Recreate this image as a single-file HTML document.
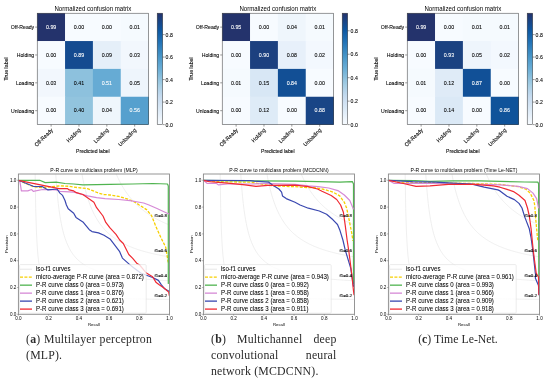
<!DOCTYPE html>
<html><head><meta charset="utf-8"><style>
html,body{margin:0;padding:0;background:#fff;width:550px;height:382px;overflow:hidden;position:relative} svg,.cap{will-change:transform}
svg text{stroke:#000;stroke-width:0.08} svg text.w{stroke:#fff} svg text.b{stroke-width:0.12} svg text.n{stroke:none} svg text.l{stroke-width:0.05}
.cap{position:absolute;font-family:'Liberation Serif',serif;font-size:11.8px;line-height:15.9px;text-align:justify;color:#2a2a2a}
</style></head><body>
<svg width="550" height="382" viewBox="0 0 550 382" style="position:absolute;left:0;top:0;font-family:'Liberation Sans',sans-serif" fill="#000"><defs><linearGradient id="cbg" x1="0" y1="0" x2="0" y2="1"><stop offset="0.000" stop-color="#24336c"/><stop offset="0.050" stop-color="#1c3f7e"/><stop offset="0.100" stop-color="#154b8f"/><stop offset="0.150" stop-color="#0d57a1"/><stop offset="0.200" stop-color="#1764ab"/><stop offset="0.250" stop-color="#2070b4"/><stop offset="0.300" stop-color="#2e7ebc"/><stop offset="0.350" stop-color="#3b8bc2"/><stop offset="0.400" stop-color="#4a98c9"/><stop offset="0.450" stop-color="#5ba3d0"/><stop offset="0.500" stop-color="#6aaed6"/><stop offset="0.550" stop-color="#7fb9da"/><stop offset="0.600" stop-color="#94c4df"/><stop offset="0.650" stop-color="#a6cee4"/><stop offset="0.700" stop-color="#b7d4ea"/><stop offset="0.750" stop-color="#c6dbef"/><stop offset="0.800" stop-color="#d0e1f2"/><stop offset="0.850" stop-color="#d9e8f5"/><stop offset="0.900" stop-color="#e3eef9"/><stop offset="0.950" stop-color="#eef5fc"/><stop offset="1.000" stop-color="#f7fbff"/></linearGradient></defs><g><rect x="37.20" y="13.20" width="28.15" height="28.15" fill="#24336c"/><rect x="65.05" y="13.20" width="28.15" height="28.15" fill="#f7fbff"/><rect x="92.90" y="13.20" width="28.15" height="28.15" fill="#f7fbff"/><rect x="120.75" y="13.20" width="28.15" height="28.15" fill="#f5fafe"/><rect x="37.20" y="41.05" width="28.15" height="28.15" fill="#f7fbff"/><rect x="65.05" y="41.05" width="28.15" height="28.15" fill="#144b90"/><rect x="92.90" y="41.05" width="28.15" height="28.15" fill="#e5eff9"/><rect x="120.75" y="41.05" width="28.15" height="28.15" fill="#f2f7fd"/><rect x="37.20" y="68.90" width="28.15" height="28.15" fill="#f2f7fd"/><rect x="65.05" y="68.90" width="28.15" height="28.15" fill="#8dc1dd"/><rect x="92.90" y="68.90" width="28.15" height="28.15" fill="#66abd4"/><rect x="120.75" y="68.90" width="28.15" height="28.15" fill="#eef5fc"/><rect x="37.20" y="96.75" width="28.15" height="28.15" fill="#f7fbff"/><rect x="65.05" y="96.75" width="28.15" height="28.15" fill="#92c4de"/><rect x="92.90" y="96.75" width="28.15" height="28.15" fill="#eff6fc"/><rect x="120.75" y="96.75" width="28.15" height="28.15" fill="#56a0ce"/><text transform="translate(51.12,28.93) scale(1,1.1)" font-size="5.3" text-anchor="middle" class="w" fill="#ffffff">0.99</text><text transform="translate(78.98,28.93) scale(1,1.1)" font-size="5.3" text-anchor="middle">0.00</text><text transform="translate(106.83,28.93) scale(1,1.1)" font-size="5.3" text-anchor="middle">0.00</text><text transform="translate(134.68,28.93) scale(1,1.1)" font-size="5.3" text-anchor="middle">0.01</text><text transform="translate(51.12,56.78) scale(1,1.1)" font-size="5.3" text-anchor="middle">0.00</text><text transform="translate(78.98,56.78) scale(1,1.1)" font-size="5.3" text-anchor="middle" class="w" fill="#ffffff">0.89</text><text transform="translate(106.83,56.78) scale(1,1.1)" font-size="5.3" text-anchor="middle">0.09</text><text transform="translate(134.68,56.78) scale(1,1.1)" font-size="5.3" text-anchor="middle">0.03</text><text transform="translate(51.12,84.62) scale(1,1.1)" font-size="5.3" text-anchor="middle">0.03</text><text transform="translate(78.98,84.62) scale(1,1.1)" font-size="5.3" text-anchor="middle">0.41</text><text transform="translate(106.83,84.62) scale(1,1.1)" font-size="5.3" text-anchor="middle" class="w" fill="#ffffff">0.51</text><text transform="translate(134.68,84.62) scale(1,1.1)" font-size="5.3" text-anchor="middle">0.05</text><text transform="translate(51.12,112.48) scale(1,1.1)" font-size="5.3" text-anchor="middle">0.00</text><text transform="translate(78.98,112.48) scale(1,1.1)" font-size="5.3" text-anchor="middle">0.40</text><text transform="translate(106.83,112.48) scale(1,1.1)" font-size="5.3" text-anchor="middle">0.04</text><text transform="translate(134.68,112.48) scale(1,1.1)" font-size="5.3" text-anchor="middle" class="w" fill="#ffffff">0.56</text><rect x="37.20" y="13.20" width="111.40" height="111.40" fill="none" stroke="#333" stroke-width="0.5"/><text transform="translate(92.90,11.00) scale(1,1.1)" font-size="6.1" text-anchor="middle" class="n">Normalized confusion matrix</text><line x1="35.20" y1="27.12" x2="37.20" y2="27.12" stroke="#333" stroke-width="0.5"/><text transform="translate(34.20,29.02) scale(1,1.1)" font-size="5.15" text-anchor="end">Off-Ready</text><line x1="35.20" y1="54.98" x2="37.20" y2="54.98" stroke="#333" stroke-width="0.5"/><text transform="translate(34.20,56.88) scale(1,1.1)" font-size="5.15" text-anchor="end">Holding</text><line x1="35.20" y1="82.83" x2="37.20" y2="82.83" stroke="#333" stroke-width="0.5"/><text transform="translate(34.20,84.73) scale(1,1.1)" font-size="5.15" text-anchor="end">Loading</text><line x1="35.20" y1="110.68" x2="37.20" y2="110.68" stroke="#333" stroke-width="0.5"/><text transform="translate(34.20,112.58) scale(1,1.1)" font-size="5.15" text-anchor="end">Unloading</text><line x1="51.12" y1="124.60" x2="51.12" y2="126.60" stroke="#333" stroke-width="0.5"/><text transform="translate(53.23,130.60) rotate(-45) scale(1,1.1)" font-size="5.1" text-anchor="end">Off-Ready</text><line x1="78.98" y1="124.60" x2="78.98" y2="126.60" stroke="#333" stroke-width="0.5"/><text transform="translate(81.08,130.60) rotate(-45) scale(1,1.1)" font-size="5.1" text-anchor="end">Holding</text><line x1="106.83" y1="124.60" x2="106.83" y2="126.60" stroke="#333" stroke-width="0.5"/><text transform="translate(108.92,130.60) rotate(-45) scale(1,1.1)" font-size="5.1" text-anchor="end">Loading</text><line x1="134.68" y1="124.60" x2="134.68" y2="126.60" stroke="#333" stroke-width="0.5"/><text transform="translate(136.78,130.60) rotate(-45) scale(1,1.1)" font-size="5.1" text-anchor="end">Unloading</text><text transform="translate(92.90,152.80) scale(1,1.1)" font-size="5.1" text-anchor="middle">Predicted label</text><text transform="translate(8.20,68.90) rotate(-90) scale(1,1.1)" font-size="5.28" text-anchor="middle">True label</text><rect x="157.20" y="13.20" width="5.50" height="111.40" fill="url(#cbg)" stroke="#333" stroke-width="0.5"/><line x1="162.70" y1="124.60" x2="164.70" y2="124.60" stroke="#333" stroke-width="0.5"/><text transform="translate(165.60,126.60) scale(1,1.1)" font-size="5.2">0.0</text><line x1="162.70" y1="102.09" x2="164.70" y2="102.09" stroke="#333" stroke-width="0.5"/><text transform="translate(165.60,104.09) scale(1,1.1)" font-size="5.2">0.2</text><line x1="162.70" y1="79.59" x2="164.70" y2="79.59" stroke="#333" stroke-width="0.5"/><text transform="translate(165.60,81.59) scale(1,1.1)" font-size="5.2">0.4</text><line x1="162.70" y1="57.08" x2="164.70" y2="57.08" stroke="#333" stroke-width="0.5"/><text transform="translate(165.60,59.08) scale(1,1.1)" font-size="5.2">0.6</text><line x1="162.70" y1="34.58" x2="164.70" y2="34.58" stroke="#333" stroke-width="0.5"/><text transform="translate(165.60,36.58) scale(1,1.1)" font-size="5.2">0.8</text></g><g><rect x="222.20" y="13.20" width="28.15" height="28.15" fill="#24336c"/><rect x="250.05" y="13.20" width="28.15" height="28.15" fill="#f7fbff"/><rect x="277.90" y="13.20" width="28.15" height="28.15" fill="#eff6fc"/><rect x="305.75" y="13.20" width="28.15" height="28.15" fill="#f5fafe"/><rect x="222.20" y="41.05" width="28.15" height="28.15" fill="#f7fbff"/><rect x="250.05" y="41.05" width="28.15" height="28.15" fill="#1c407f"/><rect x="277.90" y="41.05" width="28.15" height="28.15" fill="#e7f0fa"/><rect x="305.75" y="41.05" width="28.15" height="28.15" fill="#f3f8fe"/><rect x="222.20" y="68.90" width="28.15" height="28.15" fill="#f5fafe"/><rect x="250.05" y="68.90" width="28.15" height="28.15" fill="#d8e7f5"/><rect x="277.90" y="68.90" width="28.15" height="28.15" fill="#124f95"/><rect x="305.75" y="68.90" width="28.15" height="28.15" fill="#f7fbff"/><rect x="222.20" y="96.75" width="28.15" height="28.15" fill="#f7fbff"/><rect x="250.05" y="96.75" width="28.15" height="28.15" fill="#deebf7"/><rect x="277.90" y="96.75" width="28.15" height="28.15" fill="#f7fbff"/><rect x="305.75" y="96.75" width="28.15" height="28.15" fill="#194586"/><text transform="translate(236.12,28.93) scale(1,1.1)" font-size="5.3" text-anchor="middle" class="w" fill="#ffffff">0.95</text><text transform="translate(263.98,28.93) scale(1,1.1)" font-size="5.3" text-anchor="middle">0.00</text><text transform="translate(291.82,28.93) scale(1,1.1)" font-size="5.3" text-anchor="middle">0.04</text><text transform="translate(319.68,28.93) scale(1,1.1)" font-size="5.3" text-anchor="middle">0.01</text><text transform="translate(236.12,56.78) scale(1,1.1)" font-size="5.3" text-anchor="middle">0.00</text><text transform="translate(263.98,56.78) scale(1,1.1)" font-size="5.3" text-anchor="middle" class="w" fill="#ffffff">0.90</text><text transform="translate(291.82,56.78) scale(1,1.1)" font-size="5.3" text-anchor="middle">0.08</text><text transform="translate(319.68,56.78) scale(1,1.1)" font-size="5.3" text-anchor="middle">0.02</text><text transform="translate(236.12,84.62) scale(1,1.1)" font-size="5.3" text-anchor="middle">0.01</text><text transform="translate(263.98,84.62) scale(1,1.1)" font-size="5.3" text-anchor="middle">0.15</text><text transform="translate(291.82,84.62) scale(1,1.1)" font-size="5.3" text-anchor="middle" class="w" fill="#ffffff">0.84</text><text transform="translate(319.68,84.62) scale(1,1.1)" font-size="5.3" text-anchor="middle">0.00</text><text transform="translate(236.12,112.48) scale(1,1.1)" font-size="5.3" text-anchor="middle">0.00</text><text transform="translate(263.98,112.48) scale(1,1.1)" font-size="5.3" text-anchor="middle">0.12</text><text transform="translate(291.82,112.48) scale(1,1.1)" font-size="5.3" text-anchor="middle">0.00</text><text transform="translate(319.68,112.48) scale(1,1.1)" font-size="5.3" text-anchor="middle" class="w" fill="#ffffff">0.88</text><rect x="222.20" y="13.20" width="111.40" height="111.40" fill="none" stroke="#333" stroke-width="0.5"/><text transform="translate(277.90,11.00) scale(1,1.1)" font-size="6.1" text-anchor="middle" class="n">Normalized confusion matrix</text><line x1="220.20" y1="27.12" x2="222.20" y2="27.12" stroke="#333" stroke-width="0.5"/><text transform="translate(219.20,29.02) scale(1,1.1)" font-size="5.15" text-anchor="end">Off-Ready</text><line x1="220.20" y1="54.98" x2="222.20" y2="54.98" stroke="#333" stroke-width="0.5"/><text transform="translate(219.20,56.88) scale(1,1.1)" font-size="5.15" text-anchor="end">Holding</text><line x1="220.20" y1="82.83" x2="222.20" y2="82.83" stroke="#333" stroke-width="0.5"/><text transform="translate(219.20,84.73) scale(1,1.1)" font-size="5.15" text-anchor="end">Loading</text><line x1="220.20" y1="110.68" x2="222.20" y2="110.68" stroke="#333" stroke-width="0.5"/><text transform="translate(219.20,112.58) scale(1,1.1)" font-size="5.15" text-anchor="end">Unloading</text><line x1="236.12" y1="124.60" x2="236.12" y2="126.60" stroke="#333" stroke-width="0.5"/><text transform="translate(238.22,130.60) rotate(-45) scale(1,1.1)" font-size="5.1" text-anchor="end">Off-Ready</text><line x1="263.98" y1="124.60" x2="263.98" y2="126.60" stroke="#333" stroke-width="0.5"/><text transform="translate(266.08,130.60) rotate(-45) scale(1,1.1)" font-size="5.1" text-anchor="end">Holding</text><line x1="291.82" y1="124.60" x2="291.82" y2="126.60" stroke="#333" stroke-width="0.5"/><text transform="translate(293.93,130.60) rotate(-45) scale(1,1.1)" font-size="5.1" text-anchor="end">Loading</text><line x1="319.68" y1="124.60" x2="319.68" y2="126.60" stroke="#333" stroke-width="0.5"/><text transform="translate(321.78,130.60) rotate(-45) scale(1,1.1)" font-size="5.1" text-anchor="end">Unloading</text><text transform="translate(277.90,152.80) scale(1,1.1)" font-size="5.1" text-anchor="middle">Predicted label</text><text transform="translate(193.20,68.90) rotate(-90) scale(1,1.1)" font-size="5.28" text-anchor="middle">True label</text><rect x="342.20" y="13.20" width="5.50" height="111.40" fill="url(#cbg)" stroke="#333" stroke-width="0.5"/><line x1="347.70" y1="124.60" x2="349.70" y2="124.60" stroke="#333" stroke-width="0.5"/><text transform="translate(350.60,126.60) scale(1,1.1)" font-size="5.2">0.0</text><line x1="347.70" y1="101.15" x2="349.70" y2="101.15" stroke="#333" stroke-width="0.5"/><text transform="translate(350.60,103.15) scale(1,1.1)" font-size="5.2">0.2</text><line x1="347.70" y1="77.69" x2="349.70" y2="77.69" stroke="#333" stroke-width="0.5"/><text transform="translate(350.60,79.69) scale(1,1.1)" font-size="5.2">0.4</text><line x1="347.70" y1="54.24" x2="349.70" y2="54.24" stroke="#333" stroke-width="0.5"/><text transform="translate(350.60,56.24) scale(1,1.1)" font-size="5.2">0.6</text><line x1="347.70" y1="30.79" x2="349.70" y2="30.79" stroke="#333" stroke-width="0.5"/><text transform="translate(350.60,32.79) scale(1,1.1)" font-size="5.2">0.8</text></g><g><rect x="407.20" y="13.20" width="28.15" height="28.15" fill="#24336c"/><rect x="435.05" y="13.20" width="28.15" height="28.15" fill="#f7fbff"/><rect x="462.90" y="13.20" width="28.15" height="28.15" fill="#f5fafe"/><rect x="490.75" y="13.20" width="28.15" height="28.15" fill="#f5fafe"/><rect x="407.20" y="41.05" width="28.15" height="28.15" fill="#f7fbff"/><rect x="435.05" y="41.05" width="28.15" height="28.15" fill="#1b4281"/><rect x="462.90" y="41.05" width="28.15" height="28.15" fill="#eef5fc"/><rect x="490.75" y="41.05" width="28.15" height="28.15" fill="#f3f8fe"/><rect x="407.20" y="68.90" width="28.15" height="28.15" fill="#f5fafe"/><rect x="435.05" y="68.90" width="28.15" height="28.15" fill="#dfebf7"/><rect x="462.90" y="68.90" width="28.15" height="28.15" fill="#115097"/><rect x="490.75" y="68.90" width="28.15" height="28.15" fill="#f7fbff"/><rect x="407.20" y="96.75" width="28.15" height="28.15" fill="#f7fbff"/><rect x="435.05" y="96.75" width="28.15" height="28.15" fill="#dbe9f6"/><rect x="462.90" y="96.75" width="28.15" height="28.15" fill="#f7fbff"/><rect x="490.75" y="96.75" width="28.15" height="28.15" fill="#10539a"/><text transform="translate(421.12,28.93) scale(1,1.1)" font-size="5.3" text-anchor="middle" class="w" fill="#ffffff">0.99</text><text transform="translate(448.98,28.93) scale(1,1.1)" font-size="5.3" text-anchor="middle">0.00</text><text transform="translate(476.82,28.93) scale(1,1.1)" font-size="5.3" text-anchor="middle">0.01</text><text transform="translate(504.68,28.93) scale(1,1.1)" font-size="5.3" text-anchor="middle">0.01</text><text transform="translate(421.12,56.78) scale(1,1.1)" font-size="5.3" text-anchor="middle">0.00</text><text transform="translate(448.98,56.78) scale(1,1.1)" font-size="5.3" text-anchor="middle" class="w" fill="#ffffff">0.93</text><text transform="translate(476.82,56.78) scale(1,1.1)" font-size="5.3" text-anchor="middle">0.05</text><text transform="translate(504.68,56.78) scale(1,1.1)" font-size="5.3" text-anchor="middle">0.02</text><text transform="translate(421.12,84.62) scale(1,1.1)" font-size="5.3" text-anchor="middle">0.01</text><text transform="translate(448.98,84.62) scale(1,1.1)" font-size="5.3" text-anchor="middle">0.12</text><text transform="translate(476.82,84.62) scale(1,1.1)" font-size="5.3" text-anchor="middle" class="w" fill="#ffffff">0.87</text><text transform="translate(504.68,84.62) scale(1,1.1)" font-size="5.3" text-anchor="middle">0.00</text><text transform="translate(421.12,112.48) scale(1,1.1)" font-size="5.3" text-anchor="middle">0.00</text><text transform="translate(448.98,112.48) scale(1,1.1)" font-size="5.3" text-anchor="middle">0.14</text><text transform="translate(476.82,112.48) scale(1,1.1)" font-size="5.3" text-anchor="middle">0.00</text><text transform="translate(504.68,112.48) scale(1,1.1)" font-size="5.3" text-anchor="middle" class="w" fill="#ffffff">0.86</text><rect x="407.20" y="13.20" width="111.40" height="111.40" fill="none" stroke="#333" stroke-width="0.5"/><text transform="translate(462.90,11.00) scale(1,1.1)" font-size="6.1" text-anchor="middle" class="n">Normalized confusion matrix</text><line x1="405.20" y1="27.12" x2="407.20" y2="27.12" stroke="#333" stroke-width="0.5"/><text transform="translate(404.20,29.02) scale(1,1.1)" font-size="5.15" text-anchor="end">Off-Ready</text><line x1="405.20" y1="54.98" x2="407.20" y2="54.98" stroke="#333" stroke-width="0.5"/><text transform="translate(404.20,56.88) scale(1,1.1)" font-size="5.15" text-anchor="end">Holding</text><line x1="405.20" y1="82.83" x2="407.20" y2="82.83" stroke="#333" stroke-width="0.5"/><text transform="translate(404.20,84.73) scale(1,1.1)" font-size="5.15" text-anchor="end">Loading</text><line x1="405.20" y1="110.68" x2="407.20" y2="110.68" stroke="#333" stroke-width="0.5"/><text transform="translate(404.20,112.58) scale(1,1.1)" font-size="5.15" text-anchor="end">Unloading</text><line x1="421.12" y1="124.60" x2="421.12" y2="126.60" stroke="#333" stroke-width="0.5"/><text transform="translate(423.23,130.60) rotate(-45) scale(1,1.1)" font-size="5.1" text-anchor="end">Off-Ready</text><line x1="448.98" y1="124.60" x2="448.98" y2="126.60" stroke="#333" stroke-width="0.5"/><text transform="translate(451.08,130.60) rotate(-45) scale(1,1.1)" font-size="5.1" text-anchor="end">Holding</text><line x1="476.82" y1="124.60" x2="476.82" y2="126.60" stroke="#333" stroke-width="0.5"/><text transform="translate(478.93,130.60) rotate(-45) scale(1,1.1)" font-size="5.1" text-anchor="end">Loading</text><line x1="504.68" y1="124.60" x2="504.68" y2="126.60" stroke="#333" stroke-width="0.5"/><text transform="translate(506.78,130.60) rotate(-45) scale(1,1.1)" font-size="5.1" text-anchor="end">Unloading</text><text transform="translate(462.90,152.80) scale(1,1.1)" font-size="5.1" text-anchor="middle">Predicted label</text><text transform="translate(378.20,68.90) rotate(-90) scale(1,1.1)" font-size="5.28" text-anchor="middle">True label</text><rect x="527.20" y="13.20" width="5.50" height="111.40" fill="url(#cbg)" stroke="#333" stroke-width="0.5"/><line x1="532.70" y1="124.60" x2="534.70" y2="124.60" stroke="#333" stroke-width="0.5"/><text transform="translate(535.60,126.60) scale(1,1.1)" font-size="5.2">0.0</text><line x1="532.70" y1="102.09" x2="534.70" y2="102.09" stroke="#333" stroke-width="0.5"/><text transform="translate(535.60,104.09) scale(1,1.1)" font-size="5.2">0.2</text><line x1="532.70" y1="79.59" x2="534.70" y2="79.59" stroke="#333" stroke-width="0.5"/><text transform="translate(535.60,81.59) scale(1,1.1)" font-size="5.2">0.4</text><line x1="532.70" y1="57.08" x2="534.70" y2="57.08" stroke="#333" stroke-width="0.5"/><text transform="translate(535.60,59.08) scale(1,1.1)" font-size="5.2">0.6</text><line x1="532.70" y1="34.58" x2="534.70" y2="34.58" stroke="#333" stroke-width="0.5"/><text transform="translate(535.60,36.58) scale(1,1.1)" font-size="5.2">0.8</text></g><g><clipPath id="clip0"><rect x="18.40" y="174.00" width="151.10" height="140.30"/></clipPath><g clip-path="url(#clip0)"><polyline points="34.95,159.81 35.70,208.31 36.45,232.00 37.20,246.03 37.95,255.32 38.70,261.91 39.46,266.84 40.21,270.67 40.96,273.72 41.71,276.21 42.46,278.28 43.21,280.03 43.97,281.53 44.72,282.83 45.47,283.97 46.22,284.97 46.97,285.86 47.72,286.66 48.48,287.37 49.23,288.02 49.98,288.61 50.73,289.14 51.48,289.63 52.23,290.09 52.99,290.50 53.74,290.89 54.49,291.25 55.24,291.58 55.99,291.89 56.74,292.19 57.50,292.46 58.25,292.72 59.00,292.96 59.75,293.18 60.50,293.40 61.25,293.60 62.01,293.79 62.76,293.98 63.51,294.15 64.26,294.32 65.01,294.47 65.76,294.62 66.52,294.77 67.27,294.90 68.02,295.03 68.77,295.16 69.52,295.28 70.28,295.39 71.03,295.50 71.78,295.61 72.53,295.71 73.28,295.81 74.03,295.90 74.79,295.99 75.54,296.08 76.29,296.17 77.04,296.25 77.79,296.33 78.54,296.40 79.30,296.48 80.05,296.55 80.80,296.62 81.55,296.69 82.30,296.75 83.05,296.81 83.81,296.87 84.56,296.93 85.31,296.99 86.06,297.05 86.81,297.10 87.56,297.15 88.32,297.21 89.07,297.26 89.82,297.30 90.57,297.35 91.32,297.40 92.07,297.44 92.83,297.49 93.58,297.53 94.33,297.57 95.08,297.61 95.83,297.65 96.58,297.69 97.34,297.73 98.09,297.76 98.84,297.80 99.59,297.84 100.34,297.87 101.09,297.90 101.85,297.94 102.60,297.97 103.35,298.00 104.10,298.03 104.85,298.06 105.61,298.09 106.36,298.12 107.11,298.15 107.86,298.18 108.61,298.20 109.36,298.23 110.12,298.26 110.87,298.28 111.62,298.31 112.37,298.33 113.12,298.36 113.87,298.38 114.63,298.40 115.38,298.43 116.13,298.45 116.88,298.47 117.63,298.49 118.38,298.51 119.14,298.54 119.89,298.56 120.64,298.58 121.39,298.60 122.14,298.62 122.89,298.63 123.65,298.65 124.40,298.67 125.15,298.69 125.90,298.71 126.65,298.73 127.40,298.74 128.16,298.76 128.91,298.78 129.66,298.79 130.41,298.81 131.16,298.83 131.91,298.84 132.67,298.86 133.42,298.87 134.17,298.89 134.92,298.90 135.67,298.92 136.43,298.93 137.18,298.95 137.93,298.96 138.68,298.97 139.43,298.99 140.18,299.00 140.94,299.02 141.69,299.03 142.44,299.04 143.19,299.05 143.94,299.07 144.69,299.08 145.45,299.09 146.20,299.10 146.95,299.12 147.70,299.13 148.45,299.14 149.20,299.15 149.96,299.16 150.71,299.17 151.46,299.18 152.21,299.19 152.96,299.20 153.71,299.22 154.47,299.23 155.22,299.24 155.97,299.25 156.72,299.26 157.47,299.27 158.22,299.28 158.98,299.29 159.73,299.30 160.48,299.31 161.23,299.31 161.98,299.32 162.73,299.33 163.49,299.34 164.24,299.35 164.99,299.36 165.74,299.37 166.49,299.38 167.24,299.39 168.00,299.39 168.75,299.40 169.50,299.41" fill="none" stroke="#e4e4e4" stroke-width="0.6"/><polyline points="54.49,149.51 55.24,165.18 55.99,177.65 56.74,187.81 57.50,196.26 58.25,203.38 59.00,209.47 59.75,214.74 60.50,219.34 61.25,223.40 62.01,227.00 62.76,230.22 63.51,233.11 64.26,235.72 65.01,238.10 65.76,240.26 66.52,242.25 67.27,244.07 68.02,245.75 68.77,247.31 69.52,248.76 70.28,250.10 71.03,251.35 71.78,252.53 72.53,253.63 73.28,254.66 74.03,255.63 74.79,256.55 75.54,257.41 76.29,258.23 77.04,259.00 77.79,259.74 78.54,260.43 79.30,261.10 80.05,261.73 80.80,262.33 81.55,262.91 82.30,263.45 83.05,263.98 83.81,264.48 84.56,264.96 85.31,265.43 86.06,265.87 86.81,266.29 87.56,266.70 88.32,267.10 89.07,267.48 89.82,267.84 90.57,268.19 91.32,268.53 92.07,268.86 92.83,269.18 93.58,269.49 94.33,269.78 95.08,270.07 95.83,270.35 96.58,270.61 97.34,270.88 98.09,271.13 98.84,271.37 99.59,271.61 100.34,271.84 101.09,272.07 101.85,272.28 102.60,272.50 103.35,272.70 104.10,272.90 104.85,273.10 105.61,273.29 106.36,273.47 107.11,273.65 107.86,273.83 108.61,274.00 109.36,274.17 110.12,274.33 110.87,274.49 111.62,274.64 112.37,274.80 113.12,274.94 113.87,275.09 114.63,275.23 115.38,275.37 116.13,275.50 116.88,275.64 117.63,275.76 118.38,275.89 119.14,276.01 119.89,276.14 120.64,276.25 121.39,276.37 122.14,276.48 122.89,276.60 123.65,276.71 124.40,276.81 125.15,276.92 125.90,277.02 126.65,277.12 127.40,277.22 128.16,277.32 128.91,277.41 129.66,277.51 130.41,277.60 131.16,277.69 131.91,277.78 132.67,277.86 133.42,277.95 134.17,278.03 134.92,278.12 135.67,278.20 136.43,278.28 137.18,278.35 137.93,278.43 138.68,278.51 139.43,278.58 140.18,278.65 140.94,278.73 141.69,278.80 142.44,278.87 143.19,278.94 143.94,279.00 144.69,279.07 145.45,279.14 146.20,279.20 146.95,279.26 147.70,279.33 148.45,279.39 149.20,279.45 149.96,279.51 150.71,279.57 151.46,279.62 152.21,279.68 152.96,279.74 153.71,279.79 154.47,279.85 155.22,279.90 155.97,279.96 156.72,280.01 157.47,280.06 158.22,280.11 158.98,280.16 159.73,280.21 160.48,280.26 161.23,280.31 161.98,280.36 162.73,280.40 163.49,280.45 164.24,280.50 164.99,280.54 165.74,280.58 166.49,280.63 167.24,280.67 168.00,280.72 168.75,280.76 169.50,280.80" fill="none" stroke="#e4e4e4" stroke-width="0.6"/><polyline points="77.79,144.51 78.54,151.09 79.30,157.03 80.05,162.42 80.80,167.34 81.55,171.84 82.30,175.98 83.05,179.80 83.81,183.33 84.56,186.61 85.31,189.65 86.06,192.50 86.81,195.15 87.56,197.64 88.32,199.98 89.07,202.18 89.82,204.25 90.57,206.21 91.32,208.06 92.07,209.81 92.83,211.47 93.58,213.05 94.33,214.55 95.08,215.98 95.83,217.34 96.58,218.64 97.34,219.88 98.09,221.06 98.84,222.20 99.59,223.29 100.34,224.33 101.09,225.33 101.85,226.29 102.60,227.22 103.35,228.11 104.10,228.96 104.85,229.79 105.61,230.58 106.36,231.35 107.11,232.09 107.86,232.81 108.61,233.50 109.36,234.17 110.12,234.81 110.87,235.44 111.62,236.05 112.37,236.64 113.12,237.21 113.87,237.76 114.63,238.30 115.38,238.82 116.13,239.32 116.88,239.82 117.63,240.29 118.38,240.76 119.14,241.21 119.89,241.65 120.64,242.08 121.39,242.50 122.14,242.90 122.89,243.30 123.65,243.69 124.40,244.06 125.15,244.43 125.90,244.79 126.65,245.14 127.40,245.48 128.16,245.82 128.91,246.14 129.66,246.46 130.41,246.77 131.16,247.08 131.91,247.37 132.67,247.67 133.42,247.95 134.17,248.23 134.92,248.50 135.67,248.77 136.43,249.03 137.18,249.29 137.93,249.54 138.68,249.79 139.43,250.03 140.18,250.27 140.94,250.50 141.69,250.72 142.44,250.95 143.19,251.17 143.94,251.38 144.69,251.59 145.45,251.80 146.20,252.00 146.95,252.20 147.70,252.40 148.45,252.59 149.20,252.78 149.96,252.97 150.71,253.15 151.46,253.33 152.21,253.50 152.96,253.68 153.71,253.85 154.47,254.02 155.22,254.18 155.97,254.34 156.72,254.50 157.47,254.66 158.22,254.82 158.98,254.97 159.73,255.12 160.48,255.27 161.23,255.41 161.98,255.55 162.73,255.69 163.49,255.83 164.24,255.97 164.99,256.10 165.74,256.24 166.49,256.37 167.24,256.50 168.00,256.62 168.75,256.75 169.50,256.87" fill="none" stroke="#e4e4e4" stroke-width="0.6"/><polyline points="106.36,142.97 107.11,146.10 107.86,149.07 108.61,151.89 109.36,154.57 110.12,157.12 110.87,159.55 111.62,161.87 112.37,164.08 113.12,166.20 113.87,168.23 114.63,170.17 115.38,172.03 116.13,173.82 116.88,175.54 117.63,177.19 118.38,178.78 119.14,180.31 119.89,181.78 120.64,183.20 121.39,184.57 122.14,185.89 122.89,187.16 123.65,188.40 124.40,189.59 125.15,190.74 125.90,191.86 126.65,192.94 127.40,193.99 128.16,195.01 128.91,196.00 129.66,196.95 130.41,197.88 131.16,198.79 131.91,199.66 132.67,200.51 133.42,201.34 134.17,202.15 134.92,202.93 135.67,203.70 136.43,204.44 137.18,205.17 137.93,205.87 138.68,206.56 139.43,207.23 140.18,207.89 140.94,208.53 141.69,209.15 142.44,209.76 143.19,210.36 143.94,210.94 144.69,211.51 145.45,212.06 146.20,212.60 146.95,213.14 147.70,213.65 148.45,214.16 149.20,214.66 149.96,215.15 150.71,215.62 151.46,216.09 152.21,216.55 152.96,216.99 153.71,217.43 154.47,217.86 155.22,218.28 155.97,218.70 156.72,219.10 157.47,219.50 158.22,219.89 158.98,220.27 159.73,220.65 160.48,221.02 161.23,221.38 161.98,221.74 162.73,222.09 163.49,222.43 164.24,222.76 164.99,223.10 165.74,223.42 166.49,223.74 167.24,224.06 168.00,224.36 168.75,224.67 169.50,224.97" fill="none" stroke="#e4e4e4" stroke-width="0.6"/><polyline points="18.30,180.30 33.30,186.70 42.50,187.60 56.20,186.30 60.00,185.80 69.20,186.30 78.30,187.70 87.50,188.60 92.00,190.40 98.50,193.10 104.00,194.50 110.00,195.00 118.70,196.40 127.90,199.10 135.20,202.30 139.20,205.00 146.50,209.60 151.50,215.50 155.30,225.10 161.10,238.00 165.70,247.20 167.50,258.10 168.50,264.00" fill="none" stroke="#f7cf00" stroke-width="1.3" stroke-linejoin="round" stroke-dasharray="3,1.4"/><polyline points="18.30,180.30 39.70,180.30 45.20,182.60 56.20,182.20 65.00,183.50 73.70,184.00 82.90,184.90 110.00,184.40 132.50,184.00 152.90,183.50 167.50,184.00 168.30,186.00 168.30,283.50" fill="none" stroke="#50b450" stroke-width="1.2" stroke-linejoin="round" stroke-linecap="round"/><polyline points="18.30,180.30 20.00,182.20 21.40,190.90 27.80,190.90 31.50,189.50 33.30,191.30 42.50,189.50 56.20,189.90 60.00,191.30 73.70,192.20 87.50,195.90 96.60,197.70 105.00,198.60 118.70,199.50 130.00,200.60 143.70,203.00 149.00,205.00 157.00,208.50 168.80,214.00" fill="none" stroke="#d68ad6" stroke-width="1.2" stroke-linejoin="round" stroke-linecap="round"/><polyline points="18.30,180.30 33.30,186.30 42.50,186.70 48.00,189.90 57.10,189.00 59.90,193.10 62.60,195.40 65.00,200.50 66.40,205.00 68.20,208.70 73.70,213.20 76.00,217.40 82.90,221.90 89.30,229.70 92.00,231.60 98.50,232.90 104.00,235.20 110.00,238.90 114.20,244.40 119.70,251.70 122.40,258.10 129.70,264.60 134.30,268.20 140.70,273.00 146.40,275.30 152.60,277.50 158.40,280.40 161.40,284.80 164.30,288.40 169.40,291.40" fill="none" stroke="#3a48b0" stroke-width="1.2" stroke-linejoin="round" stroke-linecap="round"/><polyline points="18.30,180.30 59.00,188.60 67.30,188.60 69.20,189.90 73.70,190.90 76.50,192.70 82.90,194.50 87.50,197.70 93.90,202.30 96.60,207.70 103.00,216.00 105.80,222.40 110.00,227.90 116.00,234.30 119.70,240.00 123.30,243.50 128.80,254.50 132.50,258.10 137.10,263.60 139.60,265.00 146.40,273.10 152.60,276.70 156.20,282.60 159.20,284.80 163.60,287.70 168.70,292.10 169.30,295.50" fill="none" stroke="#f02a32" stroke-width="1.2" stroke-linejoin="round" stroke-linecap="round"/></g><text transform="translate(154.39,296.58) scale(1,0.95)" font-size="4.5" class="b">f1=0.2</text><text transform="translate(154.39,277.37) scale(1,0.95)" font-size="4.5" class="b">f1=0.4</text><text transform="translate(154.39,251.94) scale(1,0.95)" font-size="4.5" class="b">f1=0.6</text><text transform="translate(154.39,216.72) scale(1,0.95)" font-size="4.5" class="b">f1=0.8</text><rect x="19.60" y="264.60" width="126.60" height="48.60" fill="#ffffff" fill-opacity="0.8" stroke="#d8d8d8" stroke-width="0.5" rx="1"/><line x1="20.00" y1="269.20" x2="32.00" y2="269.20" stroke="#dcdcdc" stroke-width="0.7"/><text transform="translate(36.00,271.40) scale(1,1.1)" font-size="6.1" class="l">iso-f1 curves</text><line x1="20.00" y1="277.18" x2="32.00" y2="277.18" stroke="#f7cf00" stroke-width="1.15" stroke-dasharray="3,1.4"/><text transform="translate(36.00,279.38) scale(1,1.1)" font-size="6.1" class="l">micro-average P-R curve (area = 0.872)</text><line x1="20.00" y1="285.16" x2="32.00" y2="285.16" stroke="#50b450" stroke-width="1.3"/><text transform="translate(36.00,287.36) scale(1,1.1)" font-size="6.1" class="l">P-R curve class 0 (area = 0.973)</text><line x1="20.00" y1="293.14" x2="32.00" y2="293.14" stroke="#d68ad6" stroke-width="1.3"/><text transform="translate(36.00,295.34) scale(1,1.1)" font-size="6.1" class="l">P-R curve class 1 (area = 0.876)</text><line x1="20.00" y1="301.12" x2="32.00" y2="301.12" stroke="#3a48b0" stroke-width="1.3"/><text transform="translate(36.00,303.32) scale(1,1.1)" font-size="6.1" class="l">P-R curve class 2 (area = 0.621)</text><line x1="20.00" y1="309.10" x2="32.00" y2="309.10" stroke="#f02a32" stroke-width="1.3"/><text transform="translate(36.00,311.30) scale(1,1.1)" font-size="6.1" class="l">P-R curve class 3 (area = 0.691)</text><rect x="18.40" y="174.00" width="151.10" height="140.30" fill="none" stroke="#8a8a8a" stroke-width="0.9"/><line x1="18.40" y1="314.30" x2="18.40" y2="315.80" stroke="#555" stroke-width="0.4"/><text transform="translate(18.40,319.60) scale(1,1.1)" font-size="4.6" text-anchor="middle" class="n">0.0</text><line x1="16.90" y1="314.30" x2="18.40" y2="314.30" stroke="#555" stroke-width="0.4"/><text transform="translate(16.40,315.90) scale(1,1.1)" font-size="4.6" text-anchor="end" class="n">0.0</text><line x1="48.62" y1="314.30" x2="48.62" y2="315.80" stroke="#555" stroke-width="0.4"/><text transform="translate(48.62,319.60) scale(1,1.1)" font-size="4.6" text-anchor="middle" class="n">0.2</text><line x1="16.90" y1="287.50" x2="18.40" y2="287.50" stroke="#555" stroke-width="0.4"/><text transform="translate(16.40,289.10) scale(1,1.1)" font-size="4.6" text-anchor="end" class="n">0.2</text><line x1="78.84" y1="314.30" x2="78.84" y2="315.80" stroke="#555" stroke-width="0.4"/><text transform="translate(78.84,319.60) scale(1,1.1)" font-size="4.6" text-anchor="middle" class="n">0.4</text><line x1="16.90" y1="260.70" x2="18.40" y2="260.70" stroke="#555" stroke-width="0.4"/><text transform="translate(16.40,262.30) scale(1,1.1)" font-size="4.6" text-anchor="end" class="n">0.4</text><line x1="109.06" y1="314.30" x2="109.06" y2="315.80" stroke="#555" stroke-width="0.4"/><text transform="translate(109.06,319.60) scale(1,1.1)" font-size="4.6" text-anchor="middle" class="n">0.6</text><line x1="16.90" y1="233.90" x2="18.40" y2="233.90" stroke="#555" stroke-width="0.4"/><text transform="translate(16.40,235.50) scale(1,1.1)" font-size="4.6" text-anchor="end" class="n">0.6</text><line x1="139.28" y1="314.30" x2="139.28" y2="315.80" stroke="#555" stroke-width="0.4"/><text transform="translate(139.28,319.60) scale(1,1.1)" font-size="4.6" text-anchor="middle" class="n">0.8</text><line x1="16.90" y1="207.10" x2="18.40" y2="207.10" stroke="#555" stroke-width="0.4"/><text transform="translate(16.40,208.70) scale(1,1.1)" font-size="4.6" text-anchor="end" class="n">0.8</text><line x1="169.50" y1="314.30" x2="169.50" y2="315.80" stroke="#555" stroke-width="0.4"/><text transform="translate(169.50,319.60) scale(1,1.1)" font-size="4.6" text-anchor="middle" class="n">1.0</text><line x1="16.90" y1="180.30" x2="18.40" y2="180.30" stroke="#555" stroke-width="0.4"/><text transform="translate(16.40,181.90) scale(1,1.1)" font-size="4.6" text-anchor="end" class="n">1.0</text><text transform="translate(93.95,325.60)" font-size="4.3" text-anchor="middle" class="n">Recall</text><text transform="translate(8.00,244.15) rotate(-90)" font-size="4.3" text-anchor="middle" class="n">Precision</text><text transform="translate(93.95,172.10) scale(1,1.1)" font-size="5.1" text-anchor="middle" class="n">P-R curve to multiclass problem (MLP)</text></g><g><clipPath id="clip1"><rect x="203.40" y="174.00" width="151.10" height="140.30"/></clipPath><g clip-path="url(#clip1)"><polyline points="219.95,159.81 220.70,208.31 221.45,232.00 222.20,246.03 222.95,255.32 223.70,261.91 224.46,266.84 225.21,270.67 225.96,273.72 226.71,276.21 227.46,278.28 228.21,280.03 228.97,281.53 229.72,282.83 230.47,283.97 231.22,284.97 231.97,285.86 232.72,286.66 233.48,287.37 234.23,288.02 234.98,288.61 235.73,289.14 236.48,289.63 237.23,290.09 237.99,290.50 238.74,290.89 239.49,291.25 240.24,291.58 240.99,291.89 241.74,292.19 242.50,292.46 243.25,292.72 244.00,292.96 244.75,293.18 245.50,293.40 246.25,293.60 247.01,293.79 247.76,293.98 248.51,294.15 249.26,294.32 250.01,294.47 250.76,294.62 251.52,294.77 252.27,294.90 253.02,295.03 253.77,295.16 254.52,295.28 255.28,295.39 256.03,295.50 256.78,295.61 257.53,295.71 258.28,295.81 259.03,295.90 259.79,295.99 260.54,296.08 261.29,296.17 262.04,296.25 262.79,296.33 263.54,296.40 264.30,296.48 265.05,296.55 265.80,296.62 266.55,296.69 267.30,296.75 268.05,296.81 268.81,296.87 269.56,296.93 270.31,296.99 271.06,297.05 271.81,297.10 272.56,297.15 273.32,297.21 274.07,297.26 274.82,297.30 275.57,297.35 276.32,297.40 277.07,297.44 277.83,297.49 278.58,297.53 279.33,297.57 280.08,297.61 280.83,297.65 281.58,297.69 282.34,297.73 283.09,297.76 283.84,297.80 284.59,297.84 285.34,297.87 286.09,297.90 286.85,297.94 287.60,297.97 288.35,298.00 289.10,298.03 289.85,298.06 290.61,298.09 291.36,298.12 292.11,298.15 292.86,298.18 293.61,298.20 294.36,298.23 295.12,298.26 295.87,298.28 296.62,298.31 297.37,298.33 298.12,298.36 298.87,298.38 299.63,298.40 300.38,298.43 301.13,298.45 301.88,298.47 302.63,298.49 303.38,298.51 304.14,298.54 304.89,298.56 305.64,298.58 306.39,298.60 307.14,298.62 307.89,298.63 308.65,298.65 309.40,298.67 310.15,298.69 310.90,298.71 311.65,298.73 312.40,298.74 313.16,298.76 313.91,298.78 314.66,298.79 315.41,298.81 316.16,298.83 316.91,298.84 317.67,298.86 318.42,298.87 319.17,298.89 319.92,298.90 320.67,298.92 321.43,298.93 322.18,298.95 322.93,298.96 323.68,298.97 324.43,298.99 325.18,299.00 325.94,299.02 326.69,299.03 327.44,299.04 328.19,299.05 328.94,299.07 329.69,299.08 330.45,299.09 331.20,299.10 331.95,299.12 332.70,299.13 333.45,299.14 334.20,299.15 334.96,299.16 335.71,299.17 336.46,299.18 337.21,299.19 337.96,299.20 338.71,299.22 339.47,299.23 340.22,299.24 340.97,299.25 341.72,299.26 342.47,299.27 343.22,299.28 343.98,299.29 344.73,299.30 345.48,299.31 346.23,299.31 346.98,299.32 347.73,299.33 348.49,299.34 349.24,299.35 349.99,299.36 350.74,299.37 351.49,299.38 352.24,299.39 353.00,299.39 353.75,299.40 354.50,299.41" fill="none" stroke="#e4e4e4" stroke-width="0.6"/><polyline points="239.49,149.51 240.24,165.18 240.99,177.65 241.74,187.81 242.50,196.26 243.25,203.38 244.00,209.47 244.75,214.74 245.50,219.34 246.25,223.40 247.01,227.00 247.76,230.22 248.51,233.11 249.26,235.72 250.01,238.10 250.76,240.26 251.52,242.25 252.27,244.07 253.02,245.75 253.77,247.31 254.52,248.76 255.28,250.10 256.03,251.35 256.78,252.53 257.53,253.63 258.28,254.66 259.03,255.63 259.79,256.55 260.54,257.41 261.29,258.23 262.04,259.00 262.79,259.74 263.54,260.43 264.30,261.10 265.05,261.73 265.80,262.33 266.55,262.91 267.30,263.45 268.05,263.98 268.81,264.48 269.56,264.96 270.31,265.43 271.06,265.87 271.81,266.29 272.56,266.70 273.32,267.10 274.07,267.48 274.82,267.84 275.57,268.19 276.32,268.53 277.07,268.86 277.83,269.18 278.58,269.49 279.33,269.78 280.08,270.07 280.83,270.35 281.58,270.61 282.34,270.88 283.09,271.13 283.84,271.37 284.59,271.61 285.34,271.84 286.09,272.07 286.85,272.28 287.60,272.50 288.35,272.70 289.10,272.90 289.85,273.10 290.61,273.29 291.36,273.47 292.11,273.65 292.86,273.83 293.61,274.00 294.36,274.17 295.12,274.33 295.87,274.49 296.62,274.64 297.37,274.80 298.12,274.94 298.87,275.09 299.63,275.23 300.38,275.37 301.13,275.50 301.88,275.64 302.63,275.76 303.38,275.89 304.14,276.01 304.89,276.14 305.64,276.25 306.39,276.37 307.14,276.48 307.89,276.60 308.65,276.71 309.40,276.81 310.15,276.92 310.90,277.02 311.65,277.12 312.40,277.22 313.16,277.32 313.91,277.41 314.66,277.51 315.41,277.60 316.16,277.69 316.91,277.78 317.67,277.86 318.42,277.95 319.17,278.03 319.92,278.12 320.67,278.20 321.43,278.28 322.18,278.35 322.93,278.43 323.68,278.51 324.43,278.58 325.18,278.65 325.94,278.73 326.69,278.80 327.44,278.87 328.19,278.94 328.94,279.00 329.69,279.07 330.45,279.14 331.20,279.20 331.95,279.26 332.70,279.33 333.45,279.39 334.20,279.45 334.96,279.51 335.71,279.57 336.46,279.62 337.21,279.68 337.96,279.74 338.71,279.79 339.47,279.85 340.22,279.90 340.97,279.96 341.72,280.01 342.47,280.06 343.22,280.11 343.98,280.16 344.73,280.21 345.48,280.26 346.23,280.31 346.98,280.36 347.73,280.40 348.49,280.45 349.24,280.50 349.99,280.54 350.74,280.58 351.49,280.63 352.24,280.67 353.00,280.72 353.75,280.76 354.50,280.80" fill="none" stroke="#e4e4e4" stroke-width="0.6"/><polyline points="262.79,144.51 263.54,151.09 264.30,157.03 265.05,162.42 265.80,167.34 266.55,171.84 267.30,175.98 268.05,179.80 268.81,183.33 269.56,186.61 270.31,189.65 271.06,192.50 271.81,195.15 272.56,197.64 273.32,199.98 274.07,202.18 274.82,204.25 275.57,206.21 276.32,208.06 277.07,209.81 277.83,211.47 278.58,213.05 279.33,214.55 280.08,215.98 280.83,217.34 281.58,218.64 282.34,219.88 283.09,221.06 283.84,222.20 284.59,223.29 285.34,224.33 286.09,225.33 286.85,226.29 287.60,227.22 288.35,228.11 289.10,228.96 289.85,229.79 290.61,230.58 291.36,231.35 292.11,232.09 292.86,232.81 293.61,233.50 294.36,234.17 295.12,234.81 295.87,235.44 296.62,236.05 297.37,236.64 298.12,237.21 298.87,237.76 299.63,238.30 300.38,238.82 301.13,239.32 301.88,239.82 302.63,240.29 303.38,240.76 304.14,241.21 304.89,241.65 305.64,242.08 306.39,242.50 307.14,242.90 307.89,243.30 308.65,243.69 309.40,244.06 310.15,244.43 310.90,244.79 311.65,245.14 312.40,245.48 313.16,245.82 313.91,246.14 314.66,246.46 315.41,246.77 316.16,247.08 316.91,247.37 317.67,247.67 318.42,247.95 319.17,248.23 319.92,248.50 320.67,248.77 321.43,249.03 322.18,249.29 322.93,249.54 323.68,249.79 324.43,250.03 325.18,250.27 325.94,250.50 326.69,250.72 327.44,250.95 328.19,251.17 328.94,251.38 329.69,251.59 330.45,251.80 331.20,252.00 331.95,252.20 332.70,252.40 333.45,252.59 334.20,252.78 334.96,252.97 335.71,253.15 336.46,253.33 337.21,253.50 337.96,253.68 338.71,253.85 339.47,254.02 340.22,254.18 340.97,254.34 341.72,254.50 342.47,254.66 343.22,254.82 343.98,254.97 344.73,255.12 345.48,255.27 346.23,255.41 346.98,255.55 347.73,255.69 348.49,255.83 349.24,255.97 349.99,256.10 350.74,256.24 351.49,256.37 352.24,256.50 353.00,256.62 353.75,256.75 354.50,256.87" fill="none" stroke="#e4e4e4" stroke-width="0.6"/><polyline points="291.36,142.97 292.11,146.10 292.86,149.07 293.61,151.89 294.36,154.57 295.12,157.12 295.87,159.55 296.62,161.87 297.37,164.08 298.12,166.20 298.87,168.23 299.63,170.17 300.38,172.03 301.13,173.82 301.88,175.54 302.63,177.19 303.38,178.78 304.14,180.31 304.89,181.78 305.64,183.20 306.39,184.57 307.14,185.89 307.89,187.16 308.65,188.40 309.40,189.59 310.15,190.74 310.90,191.86 311.65,192.94 312.40,193.99 313.16,195.01 313.91,196.00 314.66,196.95 315.41,197.88 316.16,198.79 316.91,199.66 317.67,200.51 318.42,201.34 319.17,202.15 319.92,202.93 320.67,203.70 321.43,204.44 322.18,205.17 322.93,205.87 323.68,206.56 324.43,207.23 325.18,207.89 325.94,208.53 326.69,209.15 327.44,209.76 328.19,210.36 328.94,210.94 329.69,211.51 330.45,212.06 331.20,212.60 331.95,213.14 332.70,213.65 333.45,214.16 334.20,214.66 334.96,215.15 335.71,215.62 336.46,216.09 337.21,216.55 337.96,216.99 338.71,217.43 339.47,217.86 340.22,218.28 340.97,218.70 341.72,219.10 342.47,219.50 343.22,219.89 343.98,220.27 344.73,220.65 345.48,221.02 346.23,221.38 346.98,221.74 347.73,222.09 348.49,222.43 349.24,222.76 349.99,223.10 350.74,223.42 351.49,223.74 352.24,224.06 353.00,224.36 353.75,224.67 354.50,224.97" fill="none" stroke="#e4e4e4" stroke-width="0.6"/><polyline points="203.30,180.30 218.30,181.70 250.00,182.20 272.50,185.80 295.00,186.70 308.30,187.70 315.00,187.70 324.20,189.50 333.30,192.20 339.70,195.90 344.30,202.30 346.60,208.00 348.00,214.20 349.80,223.30 351.60,232.50 352.50,238.00 353.00,241.00" fill="none" stroke="#f7cf00" stroke-width="1.3" stroke-linejoin="round" stroke-dasharray="3,1.4"/><polyline points="203.30,180.30 245.00,180.80 295.00,181.20 340.00,182.20 352.50,181.70 353.50,184.00 353.50,283.60" fill="none" stroke="#50b450" stroke-width="1.2" stroke-linejoin="round" stroke-linecap="round"/><polyline points="203.30,180.30 207.30,183.50 216.50,183.50 218.30,184.90 227.50,184.00 250.00,184.00 268.80,183.50 295.00,184.40 308.30,185.80 318.00,186.60 328.70,188.00 337.90,190.60 344.30,195.00 349.80,200.50 352.50,206.90 353.30,209.00" fill="none" stroke="#d68ad6" stroke-width="1.2" stroke-linejoin="round" stroke-linecap="round"/><polyline points="203.30,180.30 250.00,180.50 254.20,181.20 268.80,182.20 272.50,184.90 278.90,189.00 281.60,192.20 282.50,195.90 286.20,198.60 295.00,202.30 300.10,205.00 308.30,208.20 319.30,211.00 326.60,214.20 333.00,219.80 337.50,224.50 340.00,230.60 342.90,240.00 345.20,249.90 350.70,268.20 353.50,286.30" fill="none" stroke="#3a48b0" stroke-width="1.2" stroke-linejoin="round" stroke-linecap="round"/><polyline points="203.30,180.30 209.20,181.70 227.50,183.10 245.00,184.90 256.00,186.30 267.90,185.40 295.00,185.20 308.30,186.70 317.50,189.00 322.00,191.30 331.20,195.50 336.70,199.50 340.60,205.00 343.40,212.30 345.20,225.10 347.10,240.00 348.90,251.70 351.60,273.00 353.50,290.90 354.00,294.60" fill="none" stroke="#f02a32" stroke-width="1.2" stroke-linejoin="round" stroke-linecap="round"/></g><text transform="translate(339.39,296.58) scale(1,0.95)" font-size="4.5" class="b">f1=0.2</text><text transform="translate(339.39,277.37) scale(1,0.95)" font-size="4.5" class="b">f1=0.4</text><text transform="translate(339.39,251.94) scale(1,0.95)" font-size="4.5" class="b">f1=0.6</text><text transform="translate(339.39,216.72) scale(1,0.95)" font-size="4.5" class="b">f1=0.8</text><rect x="204.60" y="264.60" width="126.60" height="48.60" fill="#ffffff" fill-opacity="0.8" stroke="#d8d8d8" stroke-width="0.5" rx="1"/><line x1="205.00" y1="269.20" x2="217.00" y2="269.20" stroke="#dcdcdc" stroke-width="0.7"/><text transform="translate(221.00,271.40) scale(1,1.1)" font-size="6.1" class="l">iso-f1 curves</text><line x1="205.00" y1="277.18" x2="217.00" y2="277.18" stroke="#f7cf00" stroke-width="1.15" stroke-dasharray="3,1.4"/><text transform="translate(221.00,279.38) scale(1,1.1)" font-size="6.1" class="l">micro-average P-R curve (area = 0.943)</text><line x1="205.00" y1="285.16" x2="217.00" y2="285.16" stroke="#50b450" stroke-width="1.3"/><text transform="translate(221.00,287.36) scale(1,1.1)" font-size="6.1" class="l">P-R curve class 0 (area = 0.992)</text><line x1="205.00" y1="293.14" x2="217.00" y2="293.14" stroke="#d68ad6" stroke-width="1.3"/><text transform="translate(221.00,295.34) scale(1,1.1)" font-size="6.1" class="l">P-R curve class 1 (area = 0.958)</text><line x1="205.00" y1="301.12" x2="217.00" y2="301.12" stroke="#3a48b0" stroke-width="1.3"/><text transform="translate(221.00,303.32) scale(1,1.1)" font-size="6.1" class="l">P-R curve class 2 (area = 0.858)</text><line x1="205.00" y1="309.10" x2="217.00" y2="309.10" stroke="#f02a32" stroke-width="1.3"/><text transform="translate(221.00,311.30) scale(1,1.1)" font-size="6.1" class="l">P-R curve class 3 (area = 0.911)</text><rect x="203.40" y="174.00" width="151.10" height="140.30" fill="none" stroke="#8a8a8a" stroke-width="0.9"/><line x1="203.40" y1="314.30" x2="203.40" y2="315.80" stroke="#555" stroke-width="0.4"/><text transform="translate(203.40,319.60) scale(1,1.1)" font-size="4.6" text-anchor="middle" class="n">0.0</text><line x1="201.90" y1="314.30" x2="203.40" y2="314.30" stroke="#555" stroke-width="0.4"/><text transform="translate(201.40,315.90) scale(1,1.1)" font-size="4.6" text-anchor="end" class="n">0.0</text><line x1="233.62" y1="314.30" x2="233.62" y2="315.80" stroke="#555" stroke-width="0.4"/><text transform="translate(233.62,319.60) scale(1,1.1)" font-size="4.6" text-anchor="middle" class="n">0.2</text><line x1="201.90" y1="287.50" x2="203.40" y2="287.50" stroke="#555" stroke-width="0.4"/><text transform="translate(201.40,289.10) scale(1,1.1)" font-size="4.6" text-anchor="end" class="n">0.2</text><line x1="263.84" y1="314.30" x2="263.84" y2="315.80" stroke="#555" stroke-width="0.4"/><text transform="translate(263.84,319.60) scale(1,1.1)" font-size="4.6" text-anchor="middle" class="n">0.4</text><line x1="201.90" y1="260.70" x2="203.40" y2="260.70" stroke="#555" stroke-width="0.4"/><text transform="translate(201.40,262.30) scale(1,1.1)" font-size="4.6" text-anchor="end" class="n">0.4</text><line x1="294.06" y1="314.30" x2="294.06" y2="315.80" stroke="#555" stroke-width="0.4"/><text transform="translate(294.06,319.60) scale(1,1.1)" font-size="4.6" text-anchor="middle" class="n">0.6</text><line x1="201.90" y1="233.90" x2="203.40" y2="233.90" stroke="#555" stroke-width="0.4"/><text transform="translate(201.40,235.50) scale(1,1.1)" font-size="4.6" text-anchor="end" class="n">0.6</text><line x1="324.28" y1="314.30" x2="324.28" y2="315.80" stroke="#555" stroke-width="0.4"/><text transform="translate(324.28,319.60) scale(1,1.1)" font-size="4.6" text-anchor="middle" class="n">0.8</text><line x1="201.90" y1="207.10" x2="203.40" y2="207.10" stroke="#555" stroke-width="0.4"/><text transform="translate(201.40,208.70) scale(1,1.1)" font-size="4.6" text-anchor="end" class="n">0.8</text><line x1="354.50" y1="314.30" x2="354.50" y2="315.80" stroke="#555" stroke-width="0.4"/><text transform="translate(354.50,319.60) scale(1,1.1)" font-size="4.6" text-anchor="middle" class="n">1.0</text><line x1="201.90" y1="180.30" x2="203.40" y2="180.30" stroke="#555" stroke-width="0.4"/><text transform="translate(201.40,181.90) scale(1,1.1)" font-size="4.6" text-anchor="end" class="n">1.0</text><text transform="translate(278.95,325.60)" font-size="4.3" text-anchor="middle" class="n">Recall</text><text transform="translate(193.00,244.15) rotate(-90)" font-size="4.3" text-anchor="middle" class="n">Precision</text><text transform="translate(278.95,172.10) scale(1,1.1)" font-size="5.1" text-anchor="middle" class="n">P-R curve to multiclass problem (MCDCNN)</text></g><g><clipPath id="clip2"><rect x="388.40" y="174.00" width="151.10" height="140.30"/></clipPath><g clip-path="url(#clip2)"><polyline points="404.95,159.81 405.70,208.31 406.45,232.00 407.20,246.03 407.95,255.32 408.70,261.91 409.46,266.84 410.21,270.67 410.96,273.72 411.71,276.21 412.46,278.28 413.21,280.03 413.97,281.53 414.72,282.83 415.47,283.97 416.22,284.97 416.97,285.86 417.72,286.66 418.48,287.37 419.23,288.02 419.98,288.61 420.73,289.14 421.48,289.63 422.23,290.09 422.99,290.50 423.74,290.89 424.49,291.25 425.24,291.58 425.99,291.89 426.74,292.19 427.50,292.46 428.25,292.72 429.00,292.96 429.75,293.18 430.50,293.40 431.25,293.60 432.01,293.79 432.76,293.98 433.51,294.15 434.26,294.32 435.01,294.47 435.76,294.62 436.52,294.77 437.27,294.90 438.02,295.03 438.77,295.16 439.52,295.28 440.28,295.39 441.03,295.50 441.78,295.61 442.53,295.71 443.28,295.81 444.03,295.90 444.79,295.99 445.54,296.08 446.29,296.17 447.04,296.25 447.79,296.33 448.54,296.40 449.30,296.48 450.05,296.55 450.80,296.62 451.55,296.69 452.30,296.75 453.05,296.81 453.81,296.87 454.56,296.93 455.31,296.99 456.06,297.05 456.81,297.10 457.56,297.15 458.32,297.21 459.07,297.26 459.82,297.30 460.57,297.35 461.32,297.40 462.07,297.44 462.83,297.49 463.58,297.53 464.33,297.57 465.08,297.61 465.83,297.65 466.58,297.69 467.34,297.73 468.09,297.76 468.84,297.80 469.59,297.84 470.34,297.87 471.09,297.90 471.85,297.94 472.60,297.97 473.35,298.00 474.10,298.03 474.85,298.06 475.61,298.09 476.36,298.12 477.11,298.15 477.86,298.18 478.61,298.20 479.36,298.23 480.12,298.26 480.87,298.28 481.62,298.31 482.37,298.33 483.12,298.36 483.87,298.38 484.63,298.40 485.38,298.43 486.13,298.45 486.88,298.47 487.63,298.49 488.38,298.51 489.14,298.54 489.89,298.56 490.64,298.58 491.39,298.60 492.14,298.62 492.89,298.63 493.65,298.65 494.40,298.67 495.15,298.69 495.90,298.71 496.65,298.73 497.40,298.74 498.16,298.76 498.91,298.78 499.66,298.79 500.41,298.81 501.16,298.83 501.91,298.84 502.67,298.86 503.42,298.87 504.17,298.89 504.92,298.90 505.67,298.92 506.43,298.93 507.18,298.95 507.93,298.96 508.68,298.97 509.43,298.99 510.18,299.00 510.94,299.02 511.69,299.03 512.44,299.04 513.19,299.05 513.94,299.07 514.69,299.08 515.45,299.09 516.20,299.10 516.95,299.12 517.70,299.13 518.45,299.14 519.20,299.15 519.96,299.16 520.71,299.17 521.46,299.18 522.21,299.19 522.96,299.20 523.71,299.22 524.47,299.23 525.22,299.24 525.97,299.25 526.72,299.26 527.47,299.27 528.22,299.28 528.98,299.29 529.73,299.30 530.48,299.31 531.23,299.31 531.98,299.32 532.73,299.33 533.49,299.34 534.24,299.35 534.99,299.36 535.74,299.37 536.49,299.38 537.24,299.39 538.00,299.39 538.75,299.40 539.50,299.41" fill="none" stroke="#e4e4e4" stroke-width="0.6"/><polyline points="424.49,149.51 425.24,165.18 425.99,177.65 426.74,187.81 427.50,196.26 428.25,203.38 429.00,209.47 429.75,214.74 430.50,219.34 431.25,223.40 432.01,227.00 432.76,230.22 433.51,233.11 434.26,235.72 435.01,238.10 435.76,240.26 436.52,242.25 437.27,244.07 438.02,245.75 438.77,247.31 439.52,248.76 440.28,250.10 441.03,251.35 441.78,252.53 442.53,253.63 443.28,254.66 444.03,255.63 444.79,256.55 445.54,257.41 446.29,258.23 447.04,259.00 447.79,259.74 448.54,260.43 449.30,261.10 450.05,261.73 450.80,262.33 451.55,262.91 452.30,263.45 453.05,263.98 453.81,264.48 454.56,264.96 455.31,265.43 456.06,265.87 456.81,266.29 457.56,266.70 458.32,267.10 459.07,267.48 459.82,267.84 460.57,268.19 461.32,268.53 462.07,268.86 462.83,269.18 463.58,269.49 464.33,269.78 465.08,270.07 465.83,270.35 466.58,270.61 467.34,270.88 468.09,271.13 468.84,271.37 469.59,271.61 470.34,271.84 471.09,272.07 471.85,272.28 472.60,272.50 473.35,272.70 474.10,272.90 474.85,273.10 475.61,273.29 476.36,273.47 477.11,273.65 477.86,273.83 478.61,274.00 479.36,274.17 480.12,274.33 480.87,274.49 481.62,274.64 482.37,274.80 483.12,274.94 483.87,275.09 484.63,275.23 485.38,275.37 486.13,275.50 486.88,275.64 487.63,275.76 488.38,275.89 489.14,276.01 489.89,276.14 490.64,276.25 491.39,276.37 492.14,276.48 492.89,276.60 493.65,276.71 494.40,276.81 495.15,276.92 495.90,277.02 496.65,277.12 497.40,277.22 498.16,277.32 498.91,277.41 499.66,277.51 500.41,277.60 501.16,277.69 501.91,277.78 502.67,277.86 503.42,277.95 504.17,278.03 504.92,278.12 505.67,278.20 506.43,278.28 507.18,278.35 507.93,278.43 508.68,278.51 509.43,278.58 510.18,278.65 510.94,278.73 511.69,278.80 512.44,278.87 513.19,278.94 513.94,279.00 514.69,279.07 515.45,279.14 516.20,279.20 516.95,279.26 517.70,279.33 518.45,279.39 519.20,279.45 519.96,279.51 520.71,279.57 521.46,279.62 522.21,279.68 522.96,279.74 523.71,279.79 524.47,279.85 525.22,279.90 525.97,279.96 526.72,280.01 527.47,280.06 528.22,280.11 528.98,280.16 529.73,280.21 530.48,280.26 531.23,280.31 531.98,280.36 532.73,280.40 533.49,280.45 534.24,280.50 534.99,280.54 535.74,280.58 536.49,280.63 537.24,280.67 538.00,280.72 538.75,280.76 539.50,280.80" fill="none" stroke="#e4e4e4" stroke-width="0.6"/><polyline points="447.79,144.51 448.54,151.09 449.30,157.03 450.05,162.42 450.80,167.34 451.55,171.84 452.30,175.98 453.05,179.80 453.81,183.33 454.56,186.61 455.31,189.65 456.06,192.50 456.81,195.15 457.56,197.64 458.32,199.98 459.07,202.18 459.82,204.25 460.57,206.21 461.32,208.06 462.07,209.81 462.83,211.47 463.58,213.05 464.33,214.55 465.08,215.98 465.83,217.34 466.58,218.64 467.34,219.88 468.09,221.06 468.84,222.20 469.59,223.29 470.34,224.33 471.09,225.33 471.85,226.29 472.60,227.22 473.35,228.11 474.10,228.96 474.85,229.79 475.61,230.58 476.36,231.35 477.11,232.09 477.86,232.81 478.61,233.50 479.36,234.17 480.12,234.81 480.87,235.44 481.62,236.05 482.37,236.64 483.12,237.21 483.87,237.76 484.63,238.30 485.38,238.82 486.13,239.32 486.88,239.82 487.63,240.29 488.38,240.76 489.14,241.21 489.89,241.65 490.64,242.08 491.39,242.50 492.14,242.90 492.89,243.30 493.65,243.69 494.40,244.06 495.15,244.43 495.90,244.79 496.65,245.14 497.40,245.48 498.16,245.82 498.91,246.14 499.66,246.46 500.41,246.77 501.16,247.08 501.91,247.37 502.67,247.67 503.42,247.95 504.17,248.23 504.92,248.50 505.67,248.77 506.43,249.03 507.18,249.29 507.93,249.54 508.68,249.79 509.43,250.03 510.18,250.27 510.94,250.50 511.69,250.72 512.44,250.95 513.19,251.17 513.94,251.38 514.69,251.59 515.45,251.80 516.20,252.00 516.95,252.20 517.70,252.40 518.45,252.59 519.20,252.78 519.96,252.97 520.71,253.15 521.46,253.33 522.21,253.50 522.96,253.68 523.71,253.85 524.47,254.02 525.22,254.18 525.97,254.34 526.72,254.50 527.47,254.66 528.22,254.82 528.98,254.97 529.73,255.12 530.48,255.27 531.23,255.41 531.98,255.55 532.73,255.69 533.49,255.83 534.24,255.97 534.99,256.10 535.74,256.24 536.49,256.37 537.24,256.50 538.00,256.62 538.75,256.75 539.50,256.87" fill="none" stroke="#e4e4e4" stroke-width="0.6"/><polyline points="476.36,142.97 477.11,146.10 477.86,149.07 478.61,151.89 479.36,154.57 480.12,157.12 480.87,159.55 481.62,161.87 482.37,164.08 483.12,166.20 483.87,168.23 484.63,170.17 485.38,172.03 486.13,173.82 486.88,175.54 487.63,177.19 488.38,178.78 489.14,180.31 489.89,181.78 490.64,183.20 491.39,184.57 492.14,185.89 492.89,187.16 493.65,188.40 494.40,189.59 495.15,190.74 495.90,191.86 496.65,192.94 497.40,193.99 498.16,195.01 498.91,196.00 499.66,196.95 500.41,197.88 501.16,198.79 501.91,199.66 502.67,200.51 503.42,201.34 504.17,202.15 504.92,202.93 505.67,203.70 506.43,204.44 507.18,205.17 507.93,205.87 508.68,206.56 509.43,207.23 510.18,207.89 510.94,208.53 511.69,209.15 512.44,209.76 513.19,210.36 513.94,210.94 514.69,211.51 515.45,212.06 516.20,212.60 516.95,213.14 517.70,213.65 518.45,214.16 519.20,214.66 519.96,215.15 520.71,215.62 521.46,216.09 522.21,216.55 522.96,216.99 523.71,217.43 524.47,217.86 525.22,218.28 525.97,218.70 526.72,219.10 527.47,219.50 528.22,219.89 528.98,220.27 529.73,220.65 530.48,221.02 531.23,221.38 531.98,221.74 532.73,222.09 533.49,222.43 534.24,222.76 534.99,223.10 535.74,223.42 536.49,223.74 537.24,224.06 538.00,224.36 538.75,224.67 539.50,224.97" fill="none" stroke="#e4e4e4" stroke-width="0.6"/><polyline points="388.50,180.30 398.70,182.20 435.00,182.80 471.20,183.50 500.00,184.40 518.30,186.70 525.60,189.00 530.20,193.10 533.90,200.50 534.80,206.00 535.70,218.70 537.50,238.00 538.00,241.70" fill="none" stroke="#f7cf00" stroke-width="1.3" stroke-linejoin="round" stroke-dasharray="3,1.4"/><polyline points="388.50,180.30 415.20,180.50 430.00,181.40 452.90,180.80 480.00,180.90 525.00,182.00 538.00,182.20 538.60,184.00 538.80,277.20" fill="none" stroke="#50b450" stroke-width="1.2" stroke-linejoin="round" stroke-linecap="round"/><polyline points="388.50,180.30 394.20,183.50 412.50,183.10 435.00,183.50 475.00,184.00 500.00,184.90 518.30,186.30 527.50,188.60 533.00,193.10 536.60,198.60 538.50,207.80" fill="none" stroke="#d68ad6" stroke-width="1.2" stroke-linejoin="round" stroke-linecap="round"/><polyline points="388.50,180.30 412.50,181.70 435.00,182.20 452.90,183.10 471.20,184.00 475.00,184.90 484.20,187.20 497.90,189.90 500.00,190.90 507.00,196.30 514.40,199.60 519.00,203.40 522.00,208.00 524.70,216.90 529.30,228.80 531.10,238.00 533.00,251.70 535.30,273.00 535.70,275.30 535.30,278.10 538.50,285.40 538.90,294.60" fill="none" stroke="#3a48b0" stroke-width="1.2" stroke-linejoin="round" stroke-linecap="round"/><polyline points="388.50,180.30 403.30,183.50 416.10,186.30 430.00,185.80 448.30,184.40 474.00,184.40 493.30,185.80 500.00,187.20 507.00,189.40 513.50,191.60 519.00,195.20 525.00,200.50 527.50,208.00 529.30,216.00 531.10,228.80 532.00,238.00 533.40,251.70 536.20,273.00 538.50,277.20 538.90,294.60" fill="none" stroke="#f02a32" stroke-width="1.2" stroke-linejoin="round" stroke-linecap="round"/></g><text transform="translate(524.39,296.58) scale(1,0.95)" font-size="4.5" class="b">f1=0.2</text><text transform="translate(524.39,277.37) scale(1,0.95)" font-size="4.5" class="b">f1=0.4</text><text transform="translate(524.39,251.94) scale(1,0.95)" font-size="4.5" class="b">f1=0.6</text><text transform="translate(524.39,216.72) scale(1,0.95)" font-size="4.5" class="b">f1=0.8</text><rect x="389.60" y="264.60" width="126.60" height="48.60" fill="#ffffff" fill-opacity="0.8" stroke="#d8d8d8" stroke-width="0.5" rx="1"/><line x1="390.00" y1="269.20" x2="402.00" y2="269.20" stroke="#dcdcdc" stroke-width="0.7"/><text transform="translate(406.00,271.40) scale(1,1.1)" font-size="6.1" class="l">iso-f1 curves</text><line x1="390.00" y1="277.18" x2="402.00" y2="277.18" stroke="#f7cf00" stroke-width="1.15" stroke-dasharray="3,1.4"/><text transform="translate(406.00,279.38) scale(1,1.1)" font-size="6.1" class="l">micro-average P-R curve (area = 0.961)</text><line x1="390.00" y1="285.16" x2="402.00" y2="285.16" stroke="#50b450" stroke-width="1.3"/><text transform="translate(406.00,287.36) scale(1,1.1)" font-size="6.1" class="l">P-R curve class 0 (area = 0.993)</text><line x1="390.00" y1="293.14" x2="402.00" y2="293.14" stroke="#d68ad6" stroke-width="1.3"/><text transform="translate(406.00,295.34) scale(1,1.1)" font-size="6.1" class="l">P-R curve class 1 (area = 0.966)</text><line x1="390.00" y1="301.12" x2="402.00" y2="301.12" stroke="#3a48b0" stroke-width="1.3"/><text transform="translate(406.00,303.32) scale(1,1.1)" font-size="6.1" class="l">P-R curve class 2 (area = 0.909)</text><line x1="390.00" y1="309.10" x2="402.00" y2="309.10" stroke="#f02a32" stroke-width="1.3"/><text transform="translate(406.00,311.30) scale(1,1.1)" font-size="6.1" class="l">P-R curve class 3 (area = 0.918)</text><rect x="388.40" y="174.00" width="151.10" height="140.30" fill="none" stroke="#8a8a8a" stroke-width="0.9"/><line x1="388.40" y1="314.30" x2="388.40" y2="315.80" stroke="#555" stroke-width="0.4"/><text transform="translate(388.40,319.60) scale(1,1.1)" font-size="4.6" text-anchor="middle" class="n">0.0</text><line x1="386.90" y1="314.30" x2="388.40" y2="314.30" stroke="#555" stroke-width="0.4"/><text transform="translate(386.40,315.90) scale(1,1.1)" font-size="4.6" text-anchor="end" class="n">0.0</text><line x1="418.62" y1="314.30" x2="418.62" y2="315.80" stroke="#555" stroke-width="0.4"/><text transform="translate(418.62,319.60) scale(1,1.1)" font-size="4.6" text-anchor="middle" class="n">0.2</text><line x1="386.90" y1="287.50" x2="388.40" y2="287.50" stroke="#555" stroke-width="0.4"/><text transform="translate(386.40,289.10) scale(1,1.1)" font-size="4.6" text-anchor="end" class="n">0.2</text><line x1="448.84" y1="314.30" x2="448.84" y2="315.80" stroke="#555" stroke-width="0.4"/><text transform="translate(448.84,319.60) scale(1,1.1)" font-size="4.6" text-anchor="middle" class="n">0.4</text><line x1="386.90" y1="260.70" x2="388.40" y2="260.70" stroke="#555" stroke-width="0.4"/><text transform="translate(386.40,262.30) scale(1,1.1)" font-size="4.6" text-anchor="end" class="n">0.4</text><line x1="479.06" y1="314.30" x2="479.06" y2="315.80" stroke="#555" stroke-width="0.4"/><text transform="translate(479.06,319.60) scale(1,1.1)" font-size="4.6" text-anchor="middle" class="n">0.6</text><line x1="386.90" y1="233.90" x2="388.40" y2="233.90" stroke="#555" stroke-width="0.4"/><text transform="translate(386.40,235.50) scale(1,1.1)" font-size="4.6" text-anchor="end" class="n">0.6</text><line x1="509.28" y1="314.30" x2="509.28" y2="315.80" stroke="#555" stroke-width="0.4"/><text transform="translate(509.28,319.60) scale(1,1.1)" font-size="4.6" text-anchor="middle" class="n">0.8</text><line x1="386.90" y1="207.10" x2="388.40" y2="207.10" stroke="#555" stroke-width="0.4"/><text transform="translate(386.40,208.70) scale(1,1.1)" font-size="4.6" text-anchor="end" class="n">0.8</text><line x1="539.50" y1="314.30" x2="539.50" y2="315.80" stroke="#555" stroke-width="0.4"/><text transform="translate(539.50,319.60) scale(1,1.1)" font-size="4.6" text-anchor="middle" class="n">1.0</text><line x1="386.90" y1="180.30" x2="388.40" y2="180.30" stroke="#555" stroke-width="0.4"/><text transform="translate(386.40,181.90) scale(1,1.1)" font-size="4.6" text-anchor="end" class="n">1.0</text><text transform="translate(463.95,325.60)" font-size="4.3" text-anchor="middle" class="n">Recall</text><text transform="translate(378.00,244.15) rotate(-90)" font-size="4.3" text-anchor="middle" class="n">Precision</text><text transform="translate(463.95,172.10) scale(1,1.1)" font-size="5.1" text-anchor="middle" class="n">P-R curve to multiclass problem (Time Le-NET)</text></g></svg>

<div class="cap" style="left:25.7px;top:331.6px;width:126px;letter-spacing:0.2px">(<b>a</b>) Multilayer perceptron (MLP).</div>
<div class="cap" style="left:210.7px;top:331.6px;width:125.5px;letter-spacing:0.2px">(<b>b</b>) Multichannel deep convolutional neural network (MCDCNN).</div>
<div class="cap" style="left:394.5px;top:331.6px;width:126px;text-align:center;letter-spacing:0px">(<b>c</b>) Time Le-Net.</div>

</body></html>
